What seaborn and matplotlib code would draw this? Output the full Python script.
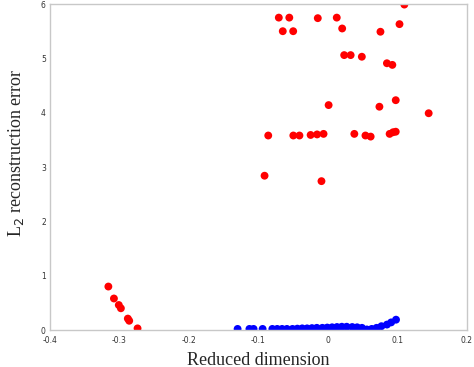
import matplotlib
matplotlib.use("Agg")
import matplotlib.pyplot as plt
import seaborn as sns
import pandas as pd
import numpy as np


# Red points (outliers)
red_x = [-0.316, -0.308, -0.301, -0.298, -0.288, -0.286, -0.274,
         -0.0707, -0.0556, -0.065, -0.050, -0.0146, 0.0127, 0.0205, 0.0756,
         0.110, 0.103, 0.0234, 0.0327, 0.0488, 0.0849, 0.0927,
         0.001, 0.0741, 0.0976, 0.145,
         -0.0859, -0.0498, -0.041, -0.0249, -0.0156, -0.0063, 0.038, 0.054,
         0.0615, 0.0888, 0.0937, 0.0976,
         -0.0912, -0.0093]
red_y = [0.80, 0.58, 0.46, 0.40, 0.21, 0.17, 0.03,
         5.75, 5.75, 5.50, 5.50, 5.74, 5.75, 5.55, 5.49,
         5.99, 5.63, 5.06, 5.06, 5.03, 4.91, 4.88,
         4.14, 4.11, 4.23, 3.99,
         3.58, 3.58, 3.58, 3.59, 3.60, 3.61, 3.61, 3.58,
         3.56, 3.61, 3.64, 3.65,
         2.84, 2.74]

# Blue points (inliers)
blue_x = [-0.130, -0.113, -0.107, -0.094, -0.080, -0.073, -0.066, -0.059,
          -0.051, -0.044, -0.037, -0.030, -0.023, -0.016, -0.008, -0.001,
          0.006, 0.013, 0.020, 0.027, 0.035, 0.042, 0.049, 0.056,
          0.063, 0.070, 0.077, 0.085, 0.091, 0.098]
blue_y = [0.02, 0.02, 0.02, 0.02, 0.02, 0.02, 0.02, 0.02,
          0.02, 0.025, 0.03, 0.03, 0.035, 0.04, 0.04, 0.045,
          0.05, 0.055, 0.06, 0.06, 0.055, 0.05, 0.04, 0.01,
          0.02, 0.04, 0.07, 0.10, 0.14, 0.19]

x_ticks = [-0.4, -0.3, -0.2, -0.1, 0, 0.1, 0.2]
x_tick_labels = ["-0.4", "-0.3", "-0.2", "-0.1", "0", "0.1", "0.2"]
y_ticks = [0, 1, 2, 3, 4, 5, 6]

df = pd.DataFrame({
    "x": red_x + blue_x,
    "y": red_y + blue_y,
    "group": ["outlier"] * len(red_x) + ["inlier"] * len(blue_x),
})

sns.set_style("white")
fig = plt.figure(figsize=(4.74, 3.67), dpi=100)
ax = fig.add_axes([0.1055, 0.1008, 0.8795, 0.8882])

sns.scatterplot(data=df, x="x", y="y", hue="group",
                palette={"outlier": "#ff0000", "inlier": "#0000ff"},
                s=32, linewidth=0, legend=False, ax=ax)

ax.set_xlim(-0.4, 0.2)
ax.set_ylim(0, 6)
ax.set_xticks(x_ticks)
ax.set_xticklabels(x_tick_labels)
ax.set_yticks(y_ticks)
ax.tick_params(axis="both", length=0, labelsize=5.5, labelcolor="#333333")
ax.tick_params(axis="x", pad=4)
ax.tick_params(axis="y", pad=3)
for sp in ax.spines.values():
    sp.set_color("#c8c8c8")
    sp.set_linewidth(1.0)

ax.set_xlabel("Reduced dimension", family="Liberation Serif", fontsize=13, labelpad=5)
ax.set_ylabel(r"L$_2$ reconstruction error", family="Liberation Serif", fontsize=13)
ax.yaxis.set_label_coords(-0.058, 0.545)

fig.savefig("out.png", dpi=100)
